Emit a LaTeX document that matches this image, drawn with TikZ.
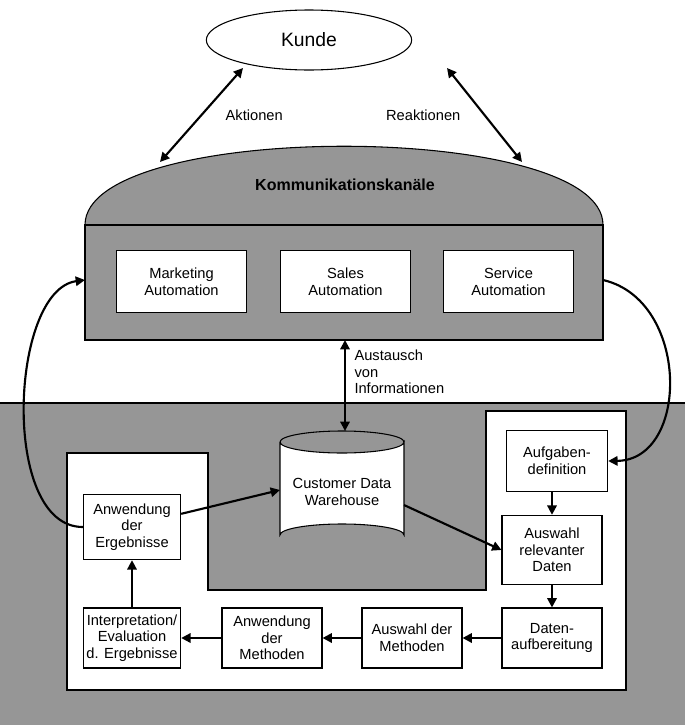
\documentclass[tikz,border=0pt]{standalone}
\usepackage{fontspec}
\setmainfont{Liberation Sans}
\usetikzlibrary{arrows.meta,shapes.geometric}
\definecolor{pg}{gray}{0.59}
\begin{document}
\begin{tikzpicture}[x=0.75pt,y=-0.75pt,
 box/.style={draw,fill=white,line width=0.8pt,align=center,font=\fontsize{11}{12.5}\selectfont,inner sep=1pt},
 arr/.style={line width=1.6pt,-{Triangle[length=7pt,width=7pt]}},
 darr/.style={line width=1.6pt,{Triangle[length=7pt,width=7pt]}-{Triangle[length=7pt,width=7pt]}},
 lbl/.style={font=\fontsize{11}{12.5}\selectfont,align=left}]
\useasboundingbox (0,0) rectangle (685,725);
% Kunde
\node[draw,ellipse,fill=white,minimum width=154pt,minimum height=45pt,line width=0.8pt,font=\fontsize{14.5}{17}\selectfont] (kunde) at (309,40) {Kunde};
% dome + panel
\draw[fill=pg,line width=0.8pt] (85,225) .. controls (85,120) and (603,120) .. (603,225) -- cycle;
\draw[fill=pg,line width=0.8pt] (85,225) rectangle (603,340);
\node[font=\bfseries\fontsize{12}{14}\selectfont] (kk) at (345,185) {Kommunikationskanäle};
\coordinate (pl) at (85,280); \coordinate (pr) at (603,280);
\coordinate (pb) at (345,340);
\coordinate (a1) at (160,162); \coordinate (a2) at (522,162);
\coordinate (k1) at (243,68); \coordinate (k2) at (447,68);
\node[box,minimum width=97pt,minimum height=47pt] (ma) at (181.5,281.5) {Marketing\\Automation};
\node[box,minimum width=97pt,minimum height=47pt] (sa) at (345.5,281.5) {Sales\\Automation};
\node[box,minimum width=97pt,minimum height=47pt] (se) at (508.5,281.5) {Service\\Automation};
\draw[darr] (k1) -- (a1) node[pos=0.5,right=14pt,lbl]{Aktionen};
\draw[darr] (k2) -- (a2) node[pos=0.5,left=14pt,lbl]{Reaktionen};
% bottom
\fill[pg] (0,403) rectangle (685,725);
\draw[line width=0.8pt] (0,403) -- (685,403);
\draw[fill=white,line width=0.8pt] (67,453) -- (208,453) -- (208,590) -- (486,590) -- (486,411) -- (626,411) -- (626,690) -- (67,690) -- cycle;
% cylinder
\draw[fill=white,line width=0.8pt] (280,442) -- (280,535) arc[start angle=180,end angle=360,x radius=62,y radius=11] -- (404,442) arc[start angle=0,end angle=180,x radius=62,y radius=11];
\draw[line width=0.8pt] (280,442) arc[start angle=180,end angle=360,x radius=62,y radius=11];
\node[lbl,align=center] (cdw) at (342,492) {Customer Data\\Warehouse};
\coordinate (cl) at (280,490); \coordinate (cr) at (404,505); \coordinate (ct) at (345,431);
\draw[darr] (pb) -- (ct) node[pos=0.35,right=3pt,lbl,align=left]{Austausch\\von\\Informationen};
% process boxes
\node[box,minimum width=76pt,minimum height=46pt] (ad) at (557,461) {Aufgaben-\\definition};
\node[box,minimum width=75pt,minimum height=52pt] (ar) at (552,550) {Auswahl\\relevanter\\Daten};
\node[box,minimum width=75pt,minimum height=45pt] (da) at (552,638) {Daten-\\aufbereitung};
\node[box,minimum width=75pt,minimum height=45pt] (am) at (412,638) {Auswahl der\\Methoden};
\node[box,minimum width=75pt,minimum height=45pt] (an) at (272,638) {Anwendung\\der\\Methoden};
\node[box,minimum width=73pt,minimum height=45pt] (ie) at (132,638) {Interpretation/\\Evaluation\\d. Ergebnisse};
\node[box,minimum width=73pt,minimum height=49pt] (ae) at (132,527) {Anwendung\\der\\Ergebnisse};
\draw[arr] (ad.south -| ar.north) -- (ar.north);
\draw[arr] (ar) -- (da);
\draw[arr] (da) -- (am);
\draw[arr] (am) -- (an);
\draw[arr] (an) -- (ie);
\draw[arr] (ie) -- (ae);
\draw[arr] (ae.15) -- (cl);
\draw[arr] (cr) -- (ar.west);
\draw[arr] (ae.west) .. controls (0,527) and (10,290) .. (pl);
\draw[arr] (pr) .. controls (690,300) and (690,460) .. (ad.east);
\end{tikzpicture}
\end{document}
